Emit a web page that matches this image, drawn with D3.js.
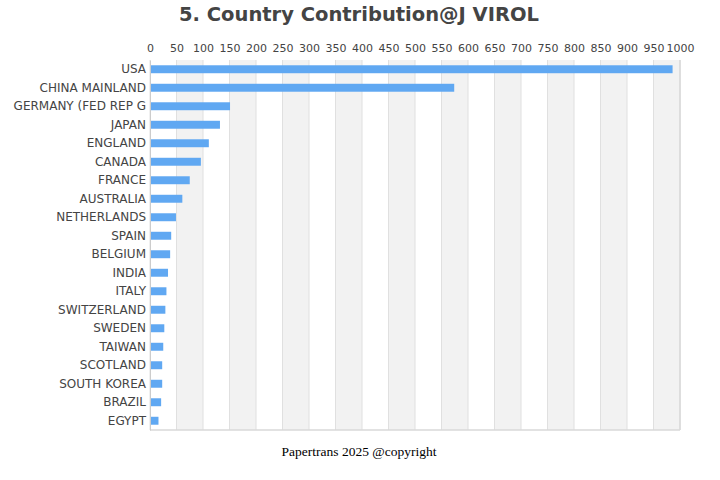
<!DOCTYPE html>
<html lang="en">
<head>
  <meta charset="UTF-8">
  <title>Country Contribution</title>
  <script src="https://d3js.org/d3.v7.min.js"></script>
  <style>
    body {
      margin: 0;
      background-color: white;
      font-family: "DejaVu Sans", sans-serif;
    }
    .bar {
      fill: #60a8f2;
    }
    .tick text {
      fill: #444;
    }
  </style>
</head>
<body>
  <svg width="720" height="480"></svg>
  <script>
    const countries = ["USA", "CHINA MAINLAND", "GERMANY (FED REP G", "JAPAN", "ENGLAND", "CANADA",
      "FRANCE", "AUSTRALIA", "NETHERLANDS", "SPAIN", "BELGIUM", "INDIA", "ITALY", "SWITZERLAND",
      "SWEDEN", "TAIWAN", "SCOTLAND", "SOUTH KOREA", "BRAZIL", "EGYPT"];
    const counts = [986, 574, 151, 132, 111, 96, 75, 61, 49, 40, 38, 34, 31, 29, 27, 25, 23, 23, 21, 16];
    const ticks = d3.range(0, 1001, 50);

    const data = countries.map((c, i) => ({ country: c, count: counts[i] }));

    const svg = d3.select("svg");
    const margin = { top: 60, right: 40, bottom: 50, left: 150 };
    const width = +svg.attr("width") - margin.left - margin.right;
    const height = +svg.attr("height") - margin.top - margin.bottom;

    svg.append("text")
      .attr("x", 359)
      .attr("y", 21)
      .attr("text-anchor", "middle")
      .style("font-size", "19.5px")
      .style("font-weight", "bold")
      .style("fill", "#444")
      .text("5. Country Contribution@J VIROL");

    const g = svg.append("g").attr("transform", `translate(${margin.left},${margin.top})`);

    const x = d3.scaleLinear().domain([0, 1000]).range([0, width]);
    const y = d3.scaleBand().domain(countries).range([0, height])
      .paddingInner(0.57).paddingOuter(0.285);

    // alternating bands
    g.selectAll(".band")
      .data(ticks.slice(0, -1).filter((d, i) => i % 2 === 1))
      .enter()
      .append("rect")
      .attr("x", d => x(d))
      .attr("y", 0)
      .attr("width", x(50) - x(0))
      .attr("height", height)
      .attr("fill", "#f2f2f2");

    // grid lines
    g.selectAll(".grid")
      .data(ticks)
      .enter()
      .append("line")
      .attr("x1", d => x(d))
      .attr("x2", d => x(d))
      .attr("y1", 0)
      .attr("y2", height)
      .attr("stroke", "#e0e0e0")
      .attr("stroke-width", 1);

    g.append("line")
      .attr("x1", 0).attr("x2", width)
      .attr("y1", height).attr("y2", height)
      .attr("stroke", "#d9d9d9").attr("stroke-width", 1.5);
    g.append("line")
      .attr("x1", width).attr("x2", width)
      .attr("y1", 0).attr("y2", height)
      .attr("stroke", "#d9d9d9").attr("stroke-width", 1.5);

    const xAxis = g.append("g")
      .call(d3.axisTop(x).tickValues(ticks).tickFormat(d3.format("d")).tickSize(0).tickPadding(8));
    xAxis.select(".domain").remove();
    xAxis.selectAll("text").style("font-size", "11px").style("font-family", "DejaVu Sans, sans-serif");

    const yAxis = g.append("g")
      .call(d3.axisLeft(y).tickSize(0).tickPadding(4));
    yAxis.select(".domain").attr("stroke", "#ccc");
    yAxis.selectAll("text").style("font-size", "12px").style("font-family", "DejaVu Sans, sans-serif");

    g.selectAll(".bar")
      .data(data)
      .enter()
      .append("rect")
      .attr("class", "bar")
      .attr("x", 1)
      .attr("y", d => y(d.country))
      .attr("width", d => x(d.count) - 1)
      .attr("height", y.bandwidth());

    svg.append("text")
      .attr("x", 359)
      .attr("y", 456)
      .attr("text-anchor", "middle")
      .style("font-family", "Liberation Serif, serif")
      .style("font-size", "13.5px")
      .style("fill", "#000")
      .text("Papertrans 2025 @copyright");
  </script>
</body>
</html>
